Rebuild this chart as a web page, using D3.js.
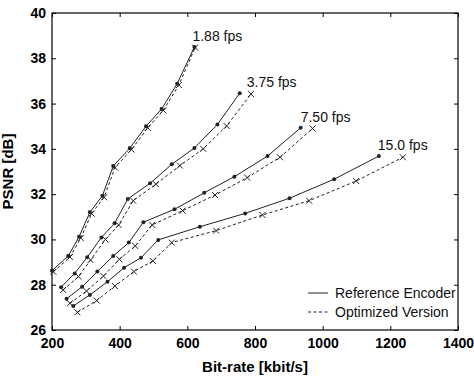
<!DOCTYPE html>
<html>
<head>
<meta charset="utf-8">
<script src="https://cdn.jsdelivr.net/npm/d3@7"></script>
<style>
  body { margin: 0; background: #fff; }
  svg text { font-family: Arial, "Liberation Sans", sans-serif; }
</style>
</head>
<body>
<svg id="chart"></svg>
<script>
// bit-rate [kbit/s], PSNR [dB]
const ref188 = [[200,28.62],[248,29.27],[280,30.12],[312,31.2],[349,31.93],[381,33.24],[430,34.03],[478,35.0],[524,35.76],[570,36.88],[621,38.5]];
const opt188 = [[204,28.57],[253,29.22],[285,30.06],[317,31.14],[354,31.86],[386,33.17],[435,33.97],[483,34.93],[529,35.7],[575,36.82],[623,38.47]];
const ref375 = [[227,27.89],[267,28.5],[304,29.21],[346,30.09],[385,30.71],[424,31.79],[490,32.48],[554,33.32],[621,34.04],[689,35.08],[755,36.46]];
const opt375 = [[233,27.77],[278,28.36],[314,29.09],[358,30.0],[397,30.64],[440,31.71],[507,32.44],[578,33.26],[647,34.0],[716,35.01],[788,36.42]];
const ref750 = [[243,27.38],[289,27.91],[334,28.58],[381,29.27],[427,29.86],[470,30.76],[562,31.33],[650,32.06],[739,32.77],[837,33.68],[935,34.93]];
const opt750 = [[253,27.18],[302,27.72],[352,28.38],[399,29.12],[446,29.71],[496,30.64],[586,31.27],[682,31.96],[777,32.73],[874,33.63],[970,34.9]];
const ref150 = [[263,27.06],[312,27.55],[364,28.13],[413,28.75],[463,29.19],[514,29.98],[637,30.56],[771,31.15],[902,31.82],[1034,32.66],[1166,33.68]];
const opt150 = [[275,26.78],[332,27.3],[386,27.94],[442,28.58],[498,29.05],[554,29.86],[685,30.39],[822,31.08],[960,31.71],[1099,32.58],[1237,33.63]];

const fpsLabels = ["1.88 fps", "3.75 fps", "7.50 fps", "15.0 fps"];
const legendLabels = ["Reference Encoder", "Optimized Version"];
const xTicks = [200, 400, 600, 800, 1000, 1200, 1400];
const yTicks = [26, 28, 30, 32, 34, 36, 38, 40];

const refSeries = [ref188, ref375, ref750, ref150];
const optSeries = [opt188, opt375, opt750, opt150];

const width = 474, height = 376;
const margin = {top: 13, right: 16, bottom: 46, left: 52};
const ink = "#222";

const svg = d3.select("#chart").attr("width", width).attr("height", height);

const x = d3.scaleLinear().domain([200, 1400]).range([margin.left, width - margin.right]);
const y = d3.scaleLinear().domain([26, 40]).range([height - margin.bottom, margin.top]);

// axes, ticks pointing inward on all four sides
svg.append("g")
  .attr("transform", `translate(0,${height - margin.bottom})`)
  .call(d3.axisBottom(x).tickValues(xTicks).tickFormat(d3.format("d")).tickSizeInner(-4).tickSizeOuter(0).tickPadding(8))
  .call(g => g.select(".domain").remove())
  .call(g => g.selectAll("text").attr("font-size", 14).attr("font-weight", "bold").attr("fill", "#000").attr("font-family", null));

svg.append("g")
  .attr("transform", `translate(${margin.left},0)`)
  .call(d3.axisLeft(y).tickValues(yTicks).tickSizeInner(-4).tickSizeOuter(0).tickPadding(6))
  .call(g => g.select(".domain").remove())
  .call(g => g.selectAll("text").attr("font-size", 14).attr("font-weight", "bold").attr("fill", "#000").attr("font-family", null));

svg.append("g")
  .attr("transform", `translate(0,${margin.top})`)
  .call(d3.axisTop(x).tickValues(xTicks).tickSizeInner(-4).tickSizeOuter(0).tickFormat(""))
  .call(g => g.select(".domain").remove());

svg.append("g")
  .attr("transform", `translate(${width - margin.right},0)`)
  .call(d3.axisRight(y).tickValues(yTicks).tickSizeInner(-4).tickSizeOuter(0).tickFormat(""))
  .call(g => g.select(".domain").remove());

svg.selectAll(".tick line").attr("stroke", "#000");

svg.append("rect")
  .attr("x", margin.left).attr("y", margin.top)
  .attr("width", width - margin.left - margin.right)
  .attr("height", height - margin.top - margin.bottom)
  .attr("fill", "none").attr("stroke", "#000").attr("stroke-width", 1.2);

// axis titles
svg.append("text")
  .attr("x", (margin.left + width - margin.right) / 2)
  .attr("y", 372)
  .attr("text-anchor", "middle")
  .attr("font-size", 15).attr("font-weight", "bold")
  .text("Bit-rate [kbit/s]");

svg.append("text")
  .attr("transform", `translate(13,${(margin.top + height - margin.bottom) / 2}) rotate(-90)`)
  .attr("text-anchor", "middle")
  .attr("font-size", 15).attr("font-weight", "bold")
  .text("PSNR [dB]");

const line = d3.line().x(d => x(d[0])).y(d => y(d[1]));

// optimized version: dashed with x markers
optSeries.forEach(s => {
  svg.append("path").datum(s)
    .attr("fill", "none").attr("stroke", ink).attr("stroke-width", 1)
    .attr("stroke-dasharray", "3,2.5")
    .attr("d", line);
  svg.append("g").selectAll("path").data(s).join("path")
    .attr("transform", d => `translate(${x(d[0])},${y(d[1])})`)
    .attr("d", "M-3,-3L3,3M-3,3L3,-3")
    .attr("stroke", ink).attr("stroke-width", 1);
});

// reference encoder: solid with dots
refSeries.forEach(s => {
  svg.append("path").datum(s)
    .attr("fill", "none").attr("stroke", ink).attr("stroke-width", 1)
    .attr("d", line);
  svg.append("g").selectAll("circle").data(s).join("circle")
    .attr("cx", d => x(d[0])).attr("cy", d => y(d[1]))
    .attr("r", 2).attr("fill", ink);
});

// frame-rate labels beside the end of each reference curve
const labelDx = [-2, 7, 0, -1];
refSeries.forEach((s, i) => {
  const last = s[s.length - 1];
  svg.append("text")
    .attr("x", x(last[0]) + labelDx[i])
    .attr("y", y(last[1]) - 6)
    .attr("font-size", 14)
    .attr("fill", "#111")
    .text(fpsLabels[i]);
});

// legend
const legend = svg.append("g").attr("transform", "translate(308,293)");
legendLabels.forEach((t, i) => {
  legend.append("line")
    .attr("x1", 0).attr("x2", 20)
    .attr("y1", i * 19).attr("y2", i * 19)
    .attr("stroke", ink).attr("stroke-width", 1)
    .attr("stroke-dasharray", i ? "3,2.5" : null);
  legend.append("text")
    .attr("x", 27).attr("y", i * 19 + 5)
    .attr("font-size", 14)
    .attr("fill", "#111")
    .text(t);
});
</script>
</body>
</html>
